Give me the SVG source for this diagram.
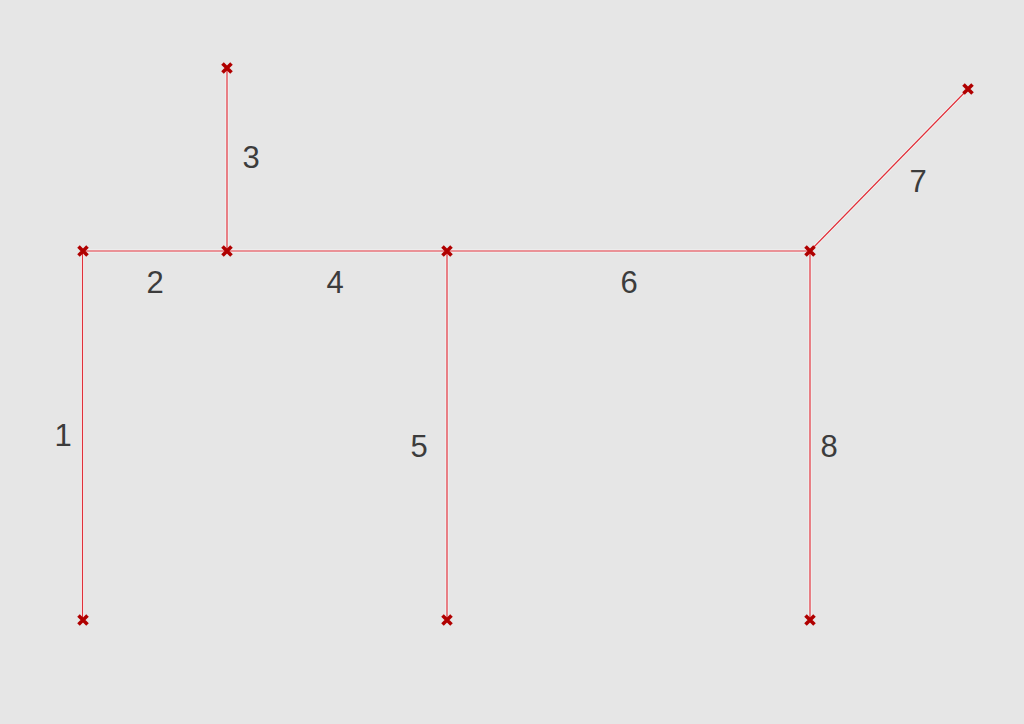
<svg xmlns="http://www.w3.org/2000/svg" width="1024" height="724" viewBox="0 0 1024 724">
<defs>
<style>
.edge{stroke:#e0303a;stroke-width:1.2;fill:none}
.halo{stroke:#ffffff;stroke-width:3;fill:none;opacity:0.6}
.lbl{font-family:"Liberation Sans",Arial,sans-serif;font-size:31px;fill:#3c3c3c;text-anchor:middle}
.x{stroke:#b00000;stroke-width:3.6;stroke-linecap:butt}
</style>
<g id="xm"><path class="x" d="M-4.5,-4.5L4.5,4.5M-4.5,4.5L4.5,-4.5"/></g>
</defs>
<rect width="1024" height="724" fill="#e6e6e6"/>
<g id="connectors">
<g>
<path class="halo" d="M82.5,620V251H810M227,251V68M447,251V620M810,251V620M810,251L968,89"/>
</g>
<path id="e1" class="edge" d="M82.5,620V251"/>
<path id="e2" class="edge" d="M82.5,251H227"/>
<path id="e3" class="edge" d="M227,251V68"/>
<path id="e4" class="edge" d="M227,251H447"/>
<path id="e5" class="edge" d="M447,251V620"/>
<path id="e6" class="edge" d="M447,251H810"/>
<path id="e7" class="edge" d="M810,251L968,89"/>
<path id="e8" class="edge" d="M810,251V620"/>
</g>
<g id="labels">
<text class="lbl" x="63" y="446">1</text>
<text class="lbl" x="155" y="293">2</text>
<text class="lbl" x="251" y="168">3</text>
<text class="lbl" x="335" y="293">4</text>
<text class="lbl" x="419" y="457">5</text>
<text class="lbl" x="629" y="293">6</text>
<text class="lbl" x="918" y="192">7</text>
<text class="lbl" x="829" y="457">8</text>
</g>
<g id="n1"><use href="#xm" x="83" y="251"/></g>
<g id="n2"><use href="#xm" x="227" y="68"/></g>
<g id="n3"><use href="#xm" x="227" y="251"/></g>
<g id="n4"><use href="#xm" x="447" y="251"/></g>
<g id="n5"><use href="#xm" x="810" y="251"/></g>
<g id="n6"><use href="#xm" x="968" y="89"/></g>
<g id="n7"><use href="#xm" x="83" y="620"/></g>
<g id="n8"><use href="#xm" x="447" y="620"/></g>
<g id="n9"><use href="#xm" x="810" y="620"/></g>
</svg>
